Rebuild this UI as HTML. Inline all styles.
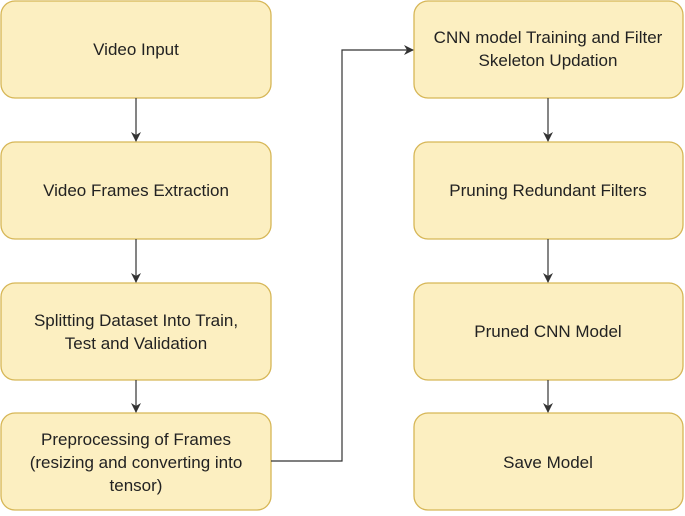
<!DOCTYPE html>
<html><head><style>
body{margin:0;width:685px;height:511px;background:#fff;overflow:hidden}
</style></head><body>
<svg width="685" height="511" xmlns="http://www.w3.org/2000/svg" font-family="Liberation Sans, sans-serif" font-size="17" fill="#222">
<defs><marker id="a" markerWidth="10" markerHeight="10" refX="9" refY="5" orient="auto" markerUnits="userSpaceOnUse"><path d="M0,0 L10,5 L0,10 L3,5 z" fill="#333"/></marker></defs>
<g fill="#fcefc1" stroke="#d6b656" stroke-width="1.3">
<rect x="1" y="1" width="270" height="97" rx="14"/>
<rect x="1" y="142" width="270" height="97" rx="14"/>
<rect x="1" y="283" width="270" height="97" rx="14"/>
<rect x="1" y="413" width="270" height="97" rx="14"/>
<rect x="414" y="1" width="269" height="97" rx="14"/>
<rect x="414" y="142" width="269" height="97" rx="14"/>
<rect x="414" y="283" width="269" height="97" rx="14"/>
<rect x="414" y="413" width="269" height="97" rx="14"/>
</g>
<g stroke="#333" stroke-width="1.2" fill="none" marker-end="url(#a)">
<line x1="136" y1="98" x2="136" y2="141"/>
<line x1="136" y1="239" x2="136" y2="282"/>
<line x1="136" y1="380" x2="136" y2="412"/>
<line x1="548" y1="98" x2="548" y2="141"/>
<line x1="548" y1="239" x2="548" y2="282"/>
<line x1="548" y1="380" x2="548" y2="412"/>
<polyline points="271,461 342,461 342,50 413,50"/>
</g>
<g text-anchor="middle">
<text x="136" y="55">Video Input</text>
<text x="136" y="196">Video Frames Extraction</text>
<text x="136" y="326">Splitting Dataset Into Train,</text>
<text x="136" y="349">Test and Validation</text>
<text x="136" y="445">Preprocessing of Frames</text>
<text x="136" y="468">(resizing and converting into</text>
<text x="136" y="491">tensor)</text>
<text x="548" y="43">CNN model Training and Filter</text>
<text x="548" y="66">Skeleton Updation</text>
<text x="548" y="196">Pruning Redundant Filters</text>
<text x="548" y="337">Pruned CNN Model</text>
<text x="548" y="468">Save Model</text>
</g>
</svg>
</body></html>
